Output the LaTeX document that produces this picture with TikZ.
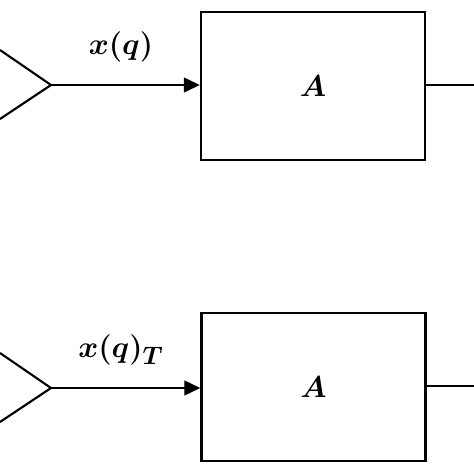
\documentclass[tikz,border=0pt]{standalone}
\usepackage{amsmath,amssymb}
\usepackage{bm}
\usepackage{tikz}
\usetikzlibrary{arrows.meta,positioning,calc}

\begin{document}
\begin{tikzpicture}[x=0.02cm, y=-0.02cm]
  \tikzstyle{block} = [rectangle, draw, line width=1.4pt, minimum width=4.48cm, minimum height=2.96cm, inner sep=0pt, font=\fontsize{19}{22}\selectfont]
  \tikzstyle{signal} = [line width=0.8pt, -{Triangle[length=0.32cm, width=0.3cm]}]
  \tikzstyle{amp} = [line width=1.2pt]
  \tikzstyle{sig label} = [font=\fontsize{19}{22}\selectfont]

  \useasboundingbox (0,0) rectangle (474,474);

  % Upper chain
  \coordinate (tipA) at (51,85);
  \node[block] (boxA) at (313,86) {$\bm{A}$};
  \coordinate (outA) at (474,85);
  \draw[amp] (0,50) -- (tipA) -- (0,119);
  \draw[signal] (tipA) -- (tipA -| boxA.west);
  \draw[line width=0.8pt] (boxA.east |- outA) -- (outA);
  \node[sig label] (labA) at (121,47) {$\bm{x(q)}$};

  % Lower chain
  \coordinate (tipB) at (51,388);
  \node[block] (boxB) at (313.5,387) {$\bm{A}$};
  \coordinate (outB) at (474,386);
  \draw[amp] (0,353) -- (tipB) -- (0,422);
  \draw[signal] (tipB) -- (tipB -| boxB.west);
  \draw[line width=0.8pt] (boxB.east |- outB) -- (outB);
  \node[sig label] (labB) at (121,350) {$\bm{x(q)_T}$};

\end{tikzpicture}
\end{document}
